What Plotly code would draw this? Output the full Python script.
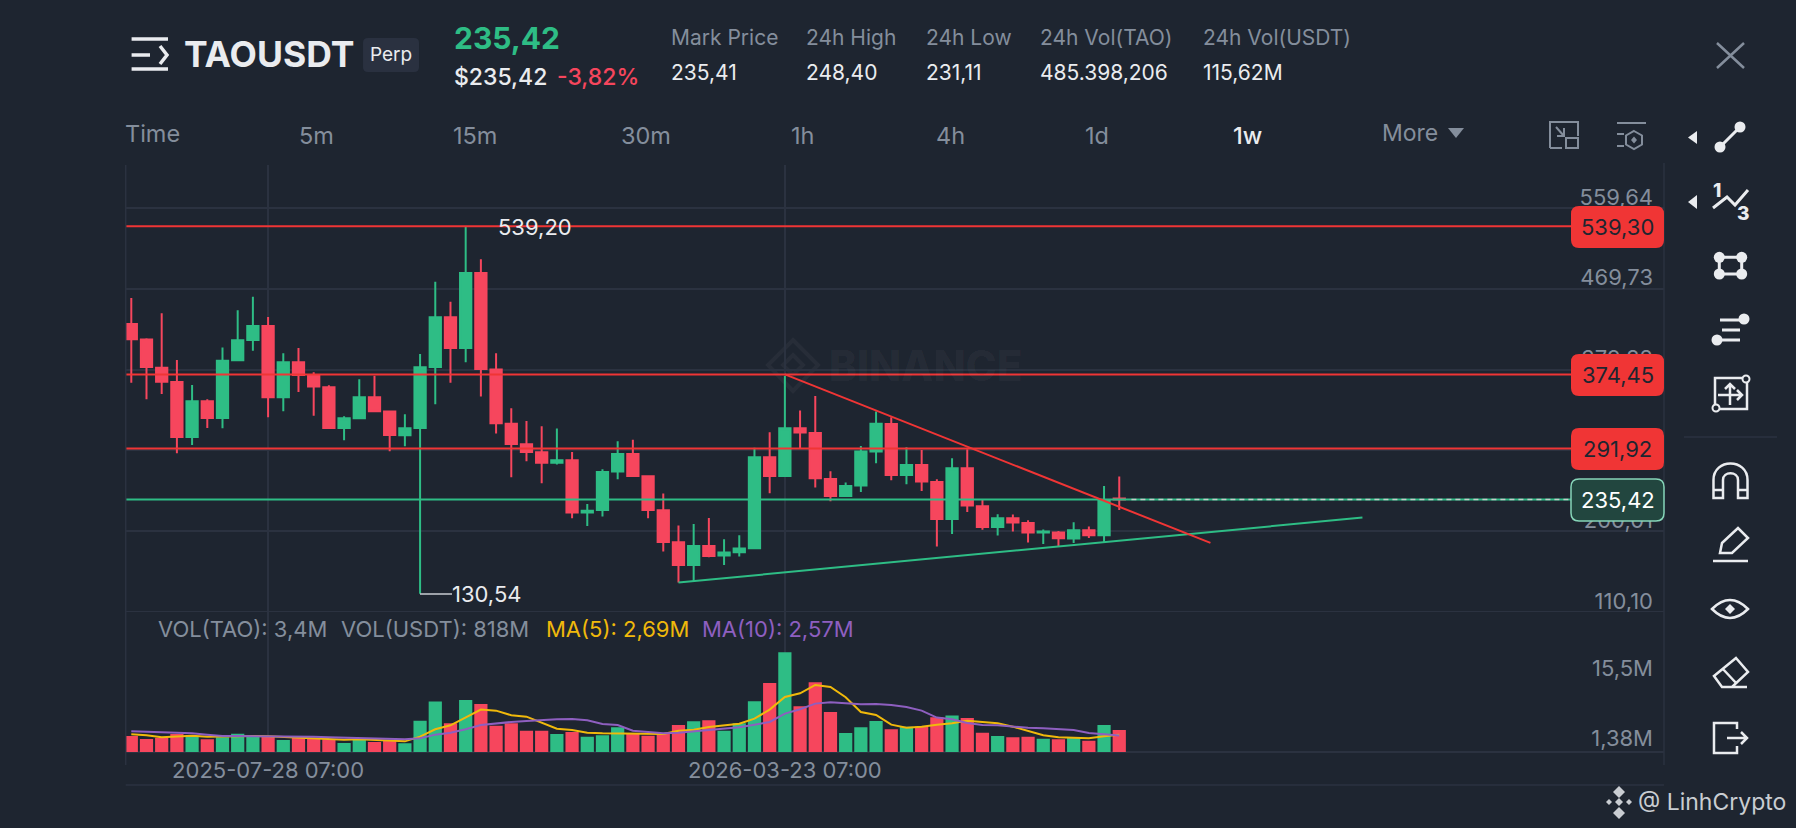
import re
import pandas as pd
import plotly.graph_objects as go

W = 1796
H = 828

BG = "#1e2530"
GRID = "#2b3240"
GREY = "#848e9c"
WHITE = "#eaecef"
GREEN = "#2ebd85"
RED = "#f6465d"
LEVEL_RED = "#f03535"
FONT = "Inter"

opens = [430.6, 413.2, 382.0, 366.1, 304.9, 344.6, 326.0, 390.2, 412.8, 428.4, 349.0, 387.9, 373.1, 360.1, 314.9, 325.6, 349.0,
         333.1, 306.8, 314.9, 382.8, 438.0, 403.9, 487.3, 379.8, 319.7, 296.7, 287.8, 276.3, 278.9, 220.7, 223.7, 266.3,
         286.0, 261.2, 223.3, 187.7, 162.5, 183.6, 172.9, 176.6, 181.0, 282.3, 261.5, 314.5, 309.3, 258.2, 239.3, 250.8,
         288.6, 319.3, 262.6, 273.8, 254.8, 213.7, 270.0, 227.8, 204.8, 214.4, 209.2, 198.5, 198.5, 191.8, 201.1, 195.5, 236.3]
highs = [459.5, 414.7, 442.5, 390.5, 362.7, 346.8, 404.3, 445.8, 461.0, 438.4, 398.0, 403.9, 376.8, 362.4, 327.9, 369.0, 373.1,
         333.4, 330.1, 397.2, 477.7, 455.4, 539.2, 502.5, 398.0, 336.8, 322.7, 316.8, 314.2, 288.2, 230.4, 268.9, 300.1,
         301.9, 261.2, 241.9, 206.3, 208.1, 214.8, 191.1, 195.5, 293.0, 310.1, 372.8, 334.2, 350.5, 266.7, 254.1, 294.9,
         333.1, 326.8, 293.4, 290.4, 257.8, 281.2, 291.2, 234.8, 218.9, 218.5, 212.2, 201.8, 200.3, 210.0, 205.2, 250.4, 260.8]
lows = [365.3, 346.8, 352.7, 286.7, 296.0, 314.9, 314.5, 389.4, 400.9, 326.8, 333.4, 354.9, 328.6, 313.8, 301.2, 324.6, 332.7,
        289.0, 294.5, 130.54, 341.2, 365.3, 387.9, 349.8, 308.6, 260.0, 277.8, 253.4, 274.1, 214.4, 205.9, 216.3, 257.8,
        260.8, 214.4, 177.3, 142.9, 144.0, 171.0, 162.5, 171.8, 180.3, 242.2, 260.4, 291.9, 248.5, 233.3, 239.3, 243.7,
        275.6, 256.7, 252.2, 244.8, 182.9, 197.0, 221.5, 201.5, 195.2, 199.6, 187.3, 185.9, 183.6, 187.0, 192.5, 188.1, 223.7]
closes = [413.5, 382.8, 366.4, 304.9, 344.6, 326.0, 389.8, 412.4, 428.4, 349.0, 387.9, 373.9, 360.9, 314.9, 325.6, 349.0, 333.4,
          307.1, 314.5, 382.4, 438.0, 403.9, 487.3, 380.5, 320.1, 297.1, 288.2, 276.3, 278.9, 220.7, 222.9, 266.0, 286.0,
          261.5, 223.7, 188.1, 162.5, 183.6, 172.5, 176.2, 180.7, 282.3, 261.5, 314.5, 309.7, 258.9, 239.3, 250.4, 288.6,
          319.7, 262.6, 273.8, 255.2, 213.7, 270.0, 228.5, 204.8, 214.4, 209.6, 198.5, 199.6, 192.2, 201.1, 195.5, 234.8, 235.42]

volumes = [2.48, 2.02, 2.22, 2.79, 2.48, 1.96, 2.27, 2.84, 2.33, 2.33, 1.86, 2.22, 2.17, 1.96, 1.40, 1.96, 1.55, 1.81, 1.34, 4.86,
           7.81, 4.45, 8.07, 7.44, 4.08, 4.45, 3.31, 3.31, 2.79, 3.10, 2.38, 2.59, 3.83, 2.79, 2.53, 2.79, 4.19, 4.76, 4.91, 3.31,
           4.45, 7.86, 10.7, 15.46, 7.08, 10.8, 6.20, 2.95, 3.83, 4.81, 3.52, 3.93, 3.93, 5.38, 5.64, 5.27, 3.00, 2.48, 2.27, 2.38,
           2.07, 1.96, 2.27, 1.76, 4.19, 3.40]
ma5 = [2.74, 2.59, 2.27, 2.43, 2.53, 2.38, 2.43, 2.43, 2.48, 2.43, 2.33, 2.27, 2.17, 2.07, 1.91, 1.96, 1.86, 1.81, 1.65, 2.38,
       3.52, 4.14, 5.38, 6.57, 6.41, 5.69, 5.48, 4.55, 3.62, 3.41, 3.00, 2.90, 2.90, 2.90, 2.84, 2.79, 3.31, 3.46, 3.88, 4.19,
       4.39, 5.17, 6.57, 8.53, 9.10, 10.39, 10.08, 8.48, 6.20, 5.74, 4.24, 3.77, 3.93, 4.24, 4.45, 4.86, 4.65, 4.45, 3.93, 3.31,
       2.59, 2.27, 2.17, 2.12, 2.43, 2.69]
ma10 = [3.21, 3.15, 3.10, 3.00, 2.90, 2.69, 2.48, 2.48, 2.48, 2.43, 2.43, 2.43, 2.38, 2.27, 2.22, 2.22, 2.17, 2.07, 1.96, 2.12,
        2.69, 3.00, 3.52, 4.19, 4.45, 4.65, 4.81, 4.96, 5.07, 5.12, 4.91, 4.34, 4.19, 3.31, 3.05, 2.90, 3.00, 3.21, 3.36, 3.62,
        3.83, 4.24, 4.65, 5.95, 6.62, 7.50, 7.70, 7.55, 7.39, 7.44, 7.29, 6.98, 6.41, 5.33, 5.07, 4.50, 4.19, 4.14, 3.93, 3.77,
        3.67, 3.52, 3.41, 2.95, 2.79, 2.57]

price_ticks = [559.64, 469.73, 379.82, 289.91, 200.00, 110.10]
price_labels = ["559,64", "469,73", "379,82", "289,91", "200,01", "110,10"]
vol_ticks = [13.0, 2.2]
vol_labels = ["15,5M", "1,38M"]
date_ticks = ["2025-07-28 07:00", "2026-03-23 07:00"]

red_levels = [539.30, 374.45, 291.92]
level_labels = ["539,30", "374,45", "291,92"]
last_price = 235.42

dates = pd.date_range("2025-05-26 07:00", periods=66, freq="7D")
week = pd.Timedelta(days=7)
x_start = dates[0] - 0.368 * week
x_end = dates[0] + 100.84 * week

# drawn trend lines, week numbers counted from the first candle
red_trend_weeks = [43, 71]
red_trend_prices = [374.45, 187.0]
green_trend_weeks = [36, 81]
green_trend_prices = [142.9, 215.2]

header = [
    ("Mark Price", "235,41", 669.5),
    ("24h High", "248,40", 805),
    ("24h Low", "231,11", 925.5),
    ("24h Vol(TAO)", "485.398,206", 1039),
    ("24h Vol(USDT)", "115,62M", 1201.5),
]
tabs = [("5m", 297.5), ("15m", 452), ("30m", 619.5), ("1h", 789.5), ("4h", 935.5), ("1d", 1084)]


def yf(y):
    return 1 - y / H


def svg(d):
    # path written in page pixels, turned into paper fractions
    return re.sub(r"(-?[\d.]+),(-?[\d.]+)", lambda m: f"{float(m[1]) / W:.5f},{yf(float(m[2])):.5f}", d)


fig = go.Figure()

fig.add_trace(go.Candlestick(
    x=dates, open=opens, high=highs, low=lows, close=closes,
    increasing=dict(line=dict(color=GREEN, width=2), fillcolor=GREEN),
    decreasing=dict(line=dict(color=RED, width=2), fillcolor=RED),
    whiskerwidth=0, hoverinfo="skip", xaxis="x", yaxis="y",
))

for level in red_levels:
    fig.add_trace(go.Scatter(x=[x_start, x_end], y=[level, level], mode="lines",
                             line=dict(color=LEVEL_RED, width=2), hoverinfo="skip", xaxis="x", yaxis="y"))
fig.add_trace(go.Scatter(x=[x_start, x_end], y=[last_price, last_price], mode="lines",
                         line=dict(color=GREEN, width=2), hoverinfo="skip", xaxis="x", yaxis="y"))
fig.add_trace(go.Scatter(x=[dates[65] + 0.8 * week, x_end], y=[last_price, last_price], mode="lines",
                         line=dict(color="#c4ccca", width=1.5, dash="5px,4px"), hoverinfo="skip", xaxis="x", yaxis="y"))
fig.add_trace(go.Scatter(x=[dates[0] + w * week for w in green_trend_weeks], y=green_trend_prices, mode="lines",
                         line=dict(color=GREEN, width=2), hoverinfo="skip", xaxis="x", yaxis="y"))
fig.add_trace(go.Scatter(x=[dates[0] + w * week for w in red_trend_weeks], y=red_trend_prices, mode="lines",
                         line=dict(color=LEVEL_RED, width=2), hoverinfo="skip", xaxis="x", yaxis="y"))

vol_colors = [GREEN if c >= o else RED for o, c in zip(opens, closes)]
fig.add_trace(go.Bar(x=dates, y=volumes, marker=dict(color=vol_colors, line=dict(width=0)),
                     hoverinfo="skip", xaxis="x", yaxis="y2"))
fig.add_trace(go.Scatter(x=dates, y=ma5, mode="lines", line=dict(color="#f0b90b", width=2),
                         hoverinfo="skip", xaxis="x", yaxis="y2"))
fig.add_trace(go.Scatter(x=dates, y=ma10, mode="lines", line=dict(color="#8e5fc0", width=2),
                         hoverinfo="skip", xaxis="x", yaxis="y2"))

shapes = []
annotations = []


def text(s, x, y, size=20, color=WHITE, anchor="left", weight=400):
    annotations.append(dict(text=s, xref="paper", yref="paper", x=x / W, y=yf(y), xanchor=anchor, yanchor="middle",
                            showarrow=False, borderpad=0, font=dict(family=FONT, size=size, color=color, weight=weight)))


def stroke(d, color=WHITE, width=2.5, fill=None, layer="above"):
    shapes.append(dict(type="path", path=svg(d), xref="paper", yref="paper", layer=layer,
                       line=dict(color=color, width=width), fillcolor=fill))


def dot(x, y, r, color=WHITE, fill=None, width=0):
    shapes.append(dict(type="circle", xref="paper", yref="paper", x0=(x - r) / W, x1=(x + r) / W,
                       y0=yf(y + r), y1=yf(y - r), line=dict(color=color, width=width), fillcolor=fill or color))


def badge(x0, y0, x1, y1, r, fill, border=None):
    d = (f"M{x0 + r},{y0} L{x1 - r},{y0} Q{x1},{y0} {x1},{y0 + r} L{x1},{y1 - r} Q{x1},{y1} {x1 - r},{y1} "
         f"L{x0 + r},{y1} Q{x0},{y1} {x0},{y1 - r} L{x0},{y0 + r} Q{x0},{y0} {x0 + r},{y0} Z")
    stroke(d, color=border or fill, width=1.5 if border else 0, fill=fill)


# frame
stroke("M125.7,165 L125.7,765", GRID, 1.5)
stroke("M1664,163 L1664,765", GRID, 1.5)
stroke("M125.7,785 L1664,785", GRID, 1.5)

# header
stroke("M131.6,39 L168,39 M131.6,55 L150,55 M131.6,69 L168,69 M160,46 L167,55 L160,64", WHITE, 3.5)
text("TAOUSDT", 183, 55, 35.5, WHITE, weight=700)
badge(363, 38, 419, 72, 5, "#2a3140")
text("Perp", 391, 55, 19, WHITE, "center")
text("235,42", 452.5, 38, 30, GREEN, weight=700)
text("$235,42", 452.5, 77, 23, WHITE, weight=500)
text("-3,82%", 555.5, 77, 23, RED, weight=500)
for name, value, x in header:
    text(name, x, 38, 21, GREY)
    text(value, x, 73, 21, WHITE)
stroke("M1717,43 L1744,68 M1744,43 L1717,68", GREY, 2.5)

# interval tabs
text("Time", 124, 133, 23.5, GREY)
for name, x in tabs:
    text(name, x, 135, 23.5, GREY)
text("1w", 1231.5, 135, 23.5, WHITE, weight=500)
text("More", 1381, 133, 23, GREY)
stroke("M1448,128 L1464,128 L1456,138 Z", GREY, 0, GREY)
stroke("M1550,148 L1550,122 L1578,122 L1578,136 M1550,148 L1562,148 M1556,127 L1564,136 M1564,128 L1564,136 L1557,136", GREY, 2)
stroke("M1566,138 L1578,138 L1578,148 L1566,148 Z", GREY, 2)
stroke("M1617,123 L1646,123 M1617,134 L1624,134 M1617,146 L1624,146", GREY, 2)
stroke("M1634,131 L1642,135.5 L1642,144.5 L1634,149 L1626,144.5 L1626,135.5 Z", GREY, 2)
stroke("M1634,136.5 L1637,140 L1634,143.5 L1631,140 Z", GREY, 0, GREY)

# toolbar
stroke("M1697,131 L1697,144 L1688,137.5 Z", WHITE, 0, WHITE)
stroke("M1720,147 L1740,127", WHITE, 3)
dot(1720, 147, 5.5)
dot(1740, 127, 5.5)
stroke("M1697,195 L1697,209 L1688,202 Z", WHITE, 0, WHITE)
stroke("M1713,208 L1727,197 L1735,205 L1748,190", WHITE, 3)
text("1", 1717, 190, 19, WHITE, "center", 800)
text("3", 1743, 213, 19, WHITE, "center", 800)
stroke("M1719.3,257.3 L1741.7,257.3 L1741.7,274 L1719.3,274 Z", WHITE, 3)
for cx, cy in [(1719.3, 257.3), (1741.7, 257.3), (1719.3, 274), (1741.7, 274)]:
    dot(cx, cy, 5.5)
stroke("M1720,320 L1744,320 M1722,330 L1740,330 M1717,340 L1740,340", WHITE, 3)
dot(1744, 319, 5.5)
dot(1717, 340, 5.5)
stroke("M1715,378 L1747,378 L1747,409 L1715,409 Z", WHITE, 2.5)
stroke("M1730,405 L1730,384 M1725,389 L1730,384 L1735,389 M1718,395 L1742,395 M1737,390 L1742,395 L1737,400", WHITE, 2.5)
dot(1746, 379, 3.5, WHITE, BG, 2)
dot(1716, 408, 3.5, WHITE, BG, 2)
stroke("M1684,437 L1777,437", GRID, 1.5)
stroke("M1713.5,498 L1713.5,480 C1713.5,458 1747.5,458 1747.5,480 L1747.5,498 L1738,498 L1738,480 "
       "C1738,471 1723,471 1723,480 L1723,498 Z M1713.5,490 L1723,490 M1738,490 L1747.5,490", WHITE, 2.5)
stroke("M1720,553 L1722,543 L1738,528 L1748,538 L1732,553 Z M1713,561 L1748,561", WHITE, 2.5)
stroke("M1712,609 Q1730,591 1748,609 Q1730,627 1712,609 Z", WHITE, 2.5)
stroke("M1730,604 L1735,609 L1730,614 L1725,609 Z", WHITE, 0, WHITE)
stroke("M1736,658 L1748,672 L1732,687 L1722,687 L1714,676 Z M1722,668 L1737,684 M1732,687 L1747,687", WHITE, 2.5)
stroke("M1737,729 L1737,723 L1714,723 L1714,753 L1737,753 L1737,746 M1727,738 L1747,738 M1741,732 L1747,738 L1741,744", WHITE, 2.5)

# watermarks
stroke("M793,340 L818,365 L793,391 L768,365 Z M793,355 L803,365 L793,375 L783,365 Z", "#272d38", 4, layer="below")
text("BINANCE", 828, 366, 42, "rgba(255,255,255,0.045)", weight=800)
for cx, cy, r in [(1619, 802, 4), (1619, 792, 6), (1619, 813, 6), (1609, 802, 3), (1629, 802, 3)]:
    stroke(f"M{cx},{cy - r} L{cx + r},{cy} L{cx},{cy + r} L{cx - r},{cy} Z", "#c9cdd2", 0, "#c9cdd2")
text("@ LinhCrypto", 1787, 802, 23, "#c9cdd2", "right")

# price labels on the chart
text("539,20", 496.5, 227, 22, WHITE)
text("130,54", 451.5, 594, 22, WHITE)
stroke("M420,594 L452,594", "#c9cdd2", 1.5)

# right side badges
for y0, label in zip([206, 354, 428], level_labels):
    badge(1571, y0, 1664, y0 + 42, 8, LEVEL_RED)
    text(label, 1617.5, y0 + 21, 22, "#1e2530", "center")
badge(1571, 479, 1664, 521, 8, "#22463f", "#86d5b8")
text("235,42", 1617.5, 500, 22, "#ffffff", "center")

# volume legend
text("VOL(TAO): 3,4M", 156.5, 629, 22, GREY)
text("VOL(USDT): 818M", 340, 629, 22, GREY)
text("MA(5): 2,69M", 545, 629, 22, "#f0b90b")
text("MA(10): 2,57M", 701, 629, 22, "#8e5fc0")

axis_font = dict(family=FONT, size=22, color=GREY)
fig.update_layout(
    width=W, height=H,
    margin=dict(l=0, r=0, t=0, b=0),
    paper_bgcolor=BG, plot_bgcolor=BG,
    showlegend=False, hovermode=False, bargap=0.13, boxgap=0.257, boxgroupgap=0,
    xaxis=dict(
        domain=[125.7 / W, 1664 / W], range=[x_start, x_end], anchor="y2", type="date",
        rangeslider=dict(visible=False), tickmode="array", tickvals=date_ticks, ticktext=date_ticks,
        showgrid=True, gridcolor=GRID, gridwidth=1.5, zeroline=False, showline=False,
        tickfont=axis_font, ticks="", ticklabelstandoff=3,
    ),
    # price axis runs a little past the 110,10 line so that its label is kept
    yaxis=dict(
        domain=[yf(630), yf(165)], range=[110.10 - 18 / 0.899, 559.64 + 43 / 0.899], anchor="x", side="right",
        tickmode="array", tickvals=price_ticks, ticktext=price_labels, ticklabelposition="inside",
        ticklabelshift=-11, ticklabelstandoff=8, tickfont=axis_font, ticks="",
        showgrid=True, gridcolor=GRID, gridwidth=1.5, zeroline=False, showline=False,
    ),
    yaxis2=dict(
        domain=[yf(752), yf(612)], range=[0, 21.7], anchor="x", side="right",
        tickmode="array", tickvals=vol_ticks, ticktext=vol_labels, ticklabelposition="inside",
        ticklabelstandoff=8, tickfont=axis_font, ticks="",
        showgrid=False, zeroline=True, zerolinecolor=GRID, zerolinewidth=1.5, showline=False,
    ),
    shapes=shapes,
    annotations=annotations,
)

fig.write_html("out.html", config={"displayModeBar": False},
               post_script="document.body.style.margin='0';document.body.style.overflow='hidden';")
